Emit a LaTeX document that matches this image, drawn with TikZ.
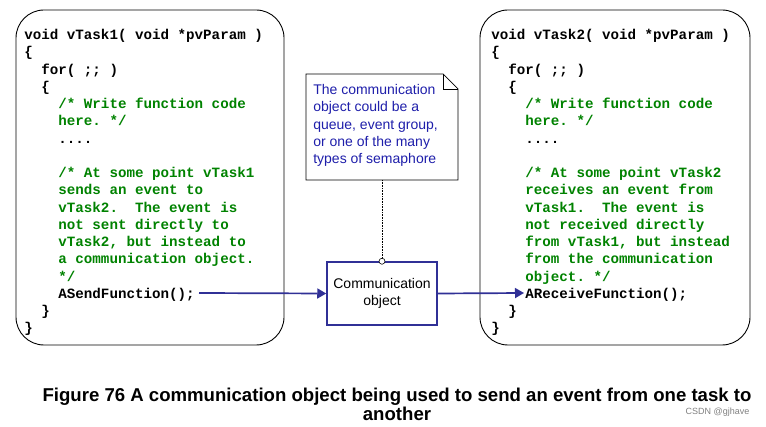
\documentclass[tikz,border=0pt]{standalone}
\usepackage{fontspec}
\setmainfont{Liberation Sans}
\newfontfamily\codefont{Liberation Mono}
\usetikzlibrary{arrows.meta, shapes.misc}
\definecolor{cmtgreen}{RGB}{0,130,0}
\definecolor{linkblue}{RGB}{48,48,150}
\definecolor{noteblue}{RGB}{30,30,170}

\begin{document}
\begin{tikzpicture}[x=1pt,y=-1pt,>={Triangle[length=9pt,width=10pt]},
                    semithick]
  \tikzstyle{task}=[draw, rounded corners=28pt, line width=0.9pt]
  \tikzstyle{code}=[anchor=north west, align=left, inner sep=0pt,
                    font=\codefont\bfseries\fontsize{14.2}{17.25}\selectfont]
  \tikzstyle{link}=[->, draw=linkblue, line width=1.7pt]
  \useasboundingbox (0,0) rectangle (766,427);

  \draw[task] (16,10) rectangle (284,345);
  \draw[task] (480,10) rectangle (750,345);

  \node[code] (codeA) at (24,29) {%
void~vTask1(~void~*pvParam~)\\
\{\\
~~for(~;;~)\\
~~\{\\
\color{cmtgreen}~~~~/*~Write~function~code\\
\color{cmtgreen}~~~~here.~*/\\
~~~~....\\
\\
\color{cmtgreen}~~~~/*~At~some~point~vTask1\\
\color{cmtgreen}~~~~sends~an~event~to\\
\color{cmtgreen}~~~~vTask2.~~The~event~is\\
\color{cmtgreen}~~~~not~sent~directly~to\\
\color{cmtgreen}~~~~vTask2,~but~instead~to\\
\color{cmtgreen}~~~~a~communication~object.\\
\color{cmtgreen}~~~~*/\\
~~~~ASendFunction();\\
~~\}\\
\}};
  \node[code] (codeB) at (491,29) {%
void~vTask2(~void~*pvParam~)\\
\{\\
~~for(~;;~)\\
~~\{\\
\color{cmtgreen}~~~~/*~Write~function~code\\
\color{cmtgreen}~~~~here.~*/\\
~~~~....\\
\\
\color{cmtgreen}~~~~/*~At~some~point~vTask2\\
\color{cmtgreen}~~~~receives~an~event~from\\
\color{cmtgreen}~~~~vTask1.~~The~event~is\\
\color{cmtgreen}~~~~not~received~directly\\
\color{cmtgreen}~~~~from~vTask1,~but~instead\\
\color{cmtgreen}~~~~from~the~communication\\
\color{cmtgreen}~~~~object.~*/\\
~~~~AReceiveFunction();\\
~~\}\\
\}};

  % note with folded corner
  \draw[line width=0.7pt] (306,74) -- (443,74) -- (458,89) -- (458,180)
        -- (306,180) -- cycle;
  \draw[line width=0.6pt] (443,74) -- (443,89) -- (458,89);
  \node[anchor=north west, align=left, inner sep=0pt, text=noteblue,
        font=\fontsize{14}{17.3}\selectfont] (note) at (313,84)
    {The communication\\object could be a\\queue, event group,\\or one of the many\\types of semaphore};
  \coordinate (noteS) at (382,180);

  \node[draw=linkblue, line width=1.5pt, minimum width=110pt, minimum height=63pt,
        align=center, font=\fontsize{14}{17}\selectfont] (comm) at (382,293.5)
    {Communication\\object};
  \node[circle, draw, fill=white, inner sep=0pt, minimum size=6pt] (pin) at (comm.north) {};
  \draw[densely dotted] (noteS) -- (pin);

  \coordinate (sendEnd) at (199,293);
  \coordinate (recvEnd) at (524,293);
  \draw[link] (sendEnd) -- (comm.west);
  \draw[link] (comm.east) -- (recvEnd);

  \node[align=center, font=\bfseries\fontsize{18.6}{19}\selectfont] (caption) at (397,404)
    {Figure 76 A communication object being used to send an event from one task to\\another};
  \node[anchor=east, text=gray, font=\fontsize{9}{10}\selectfont] (mark) at (753,412) {CSDN @gjhave};
\end{tikzpicture}
\end{document}
